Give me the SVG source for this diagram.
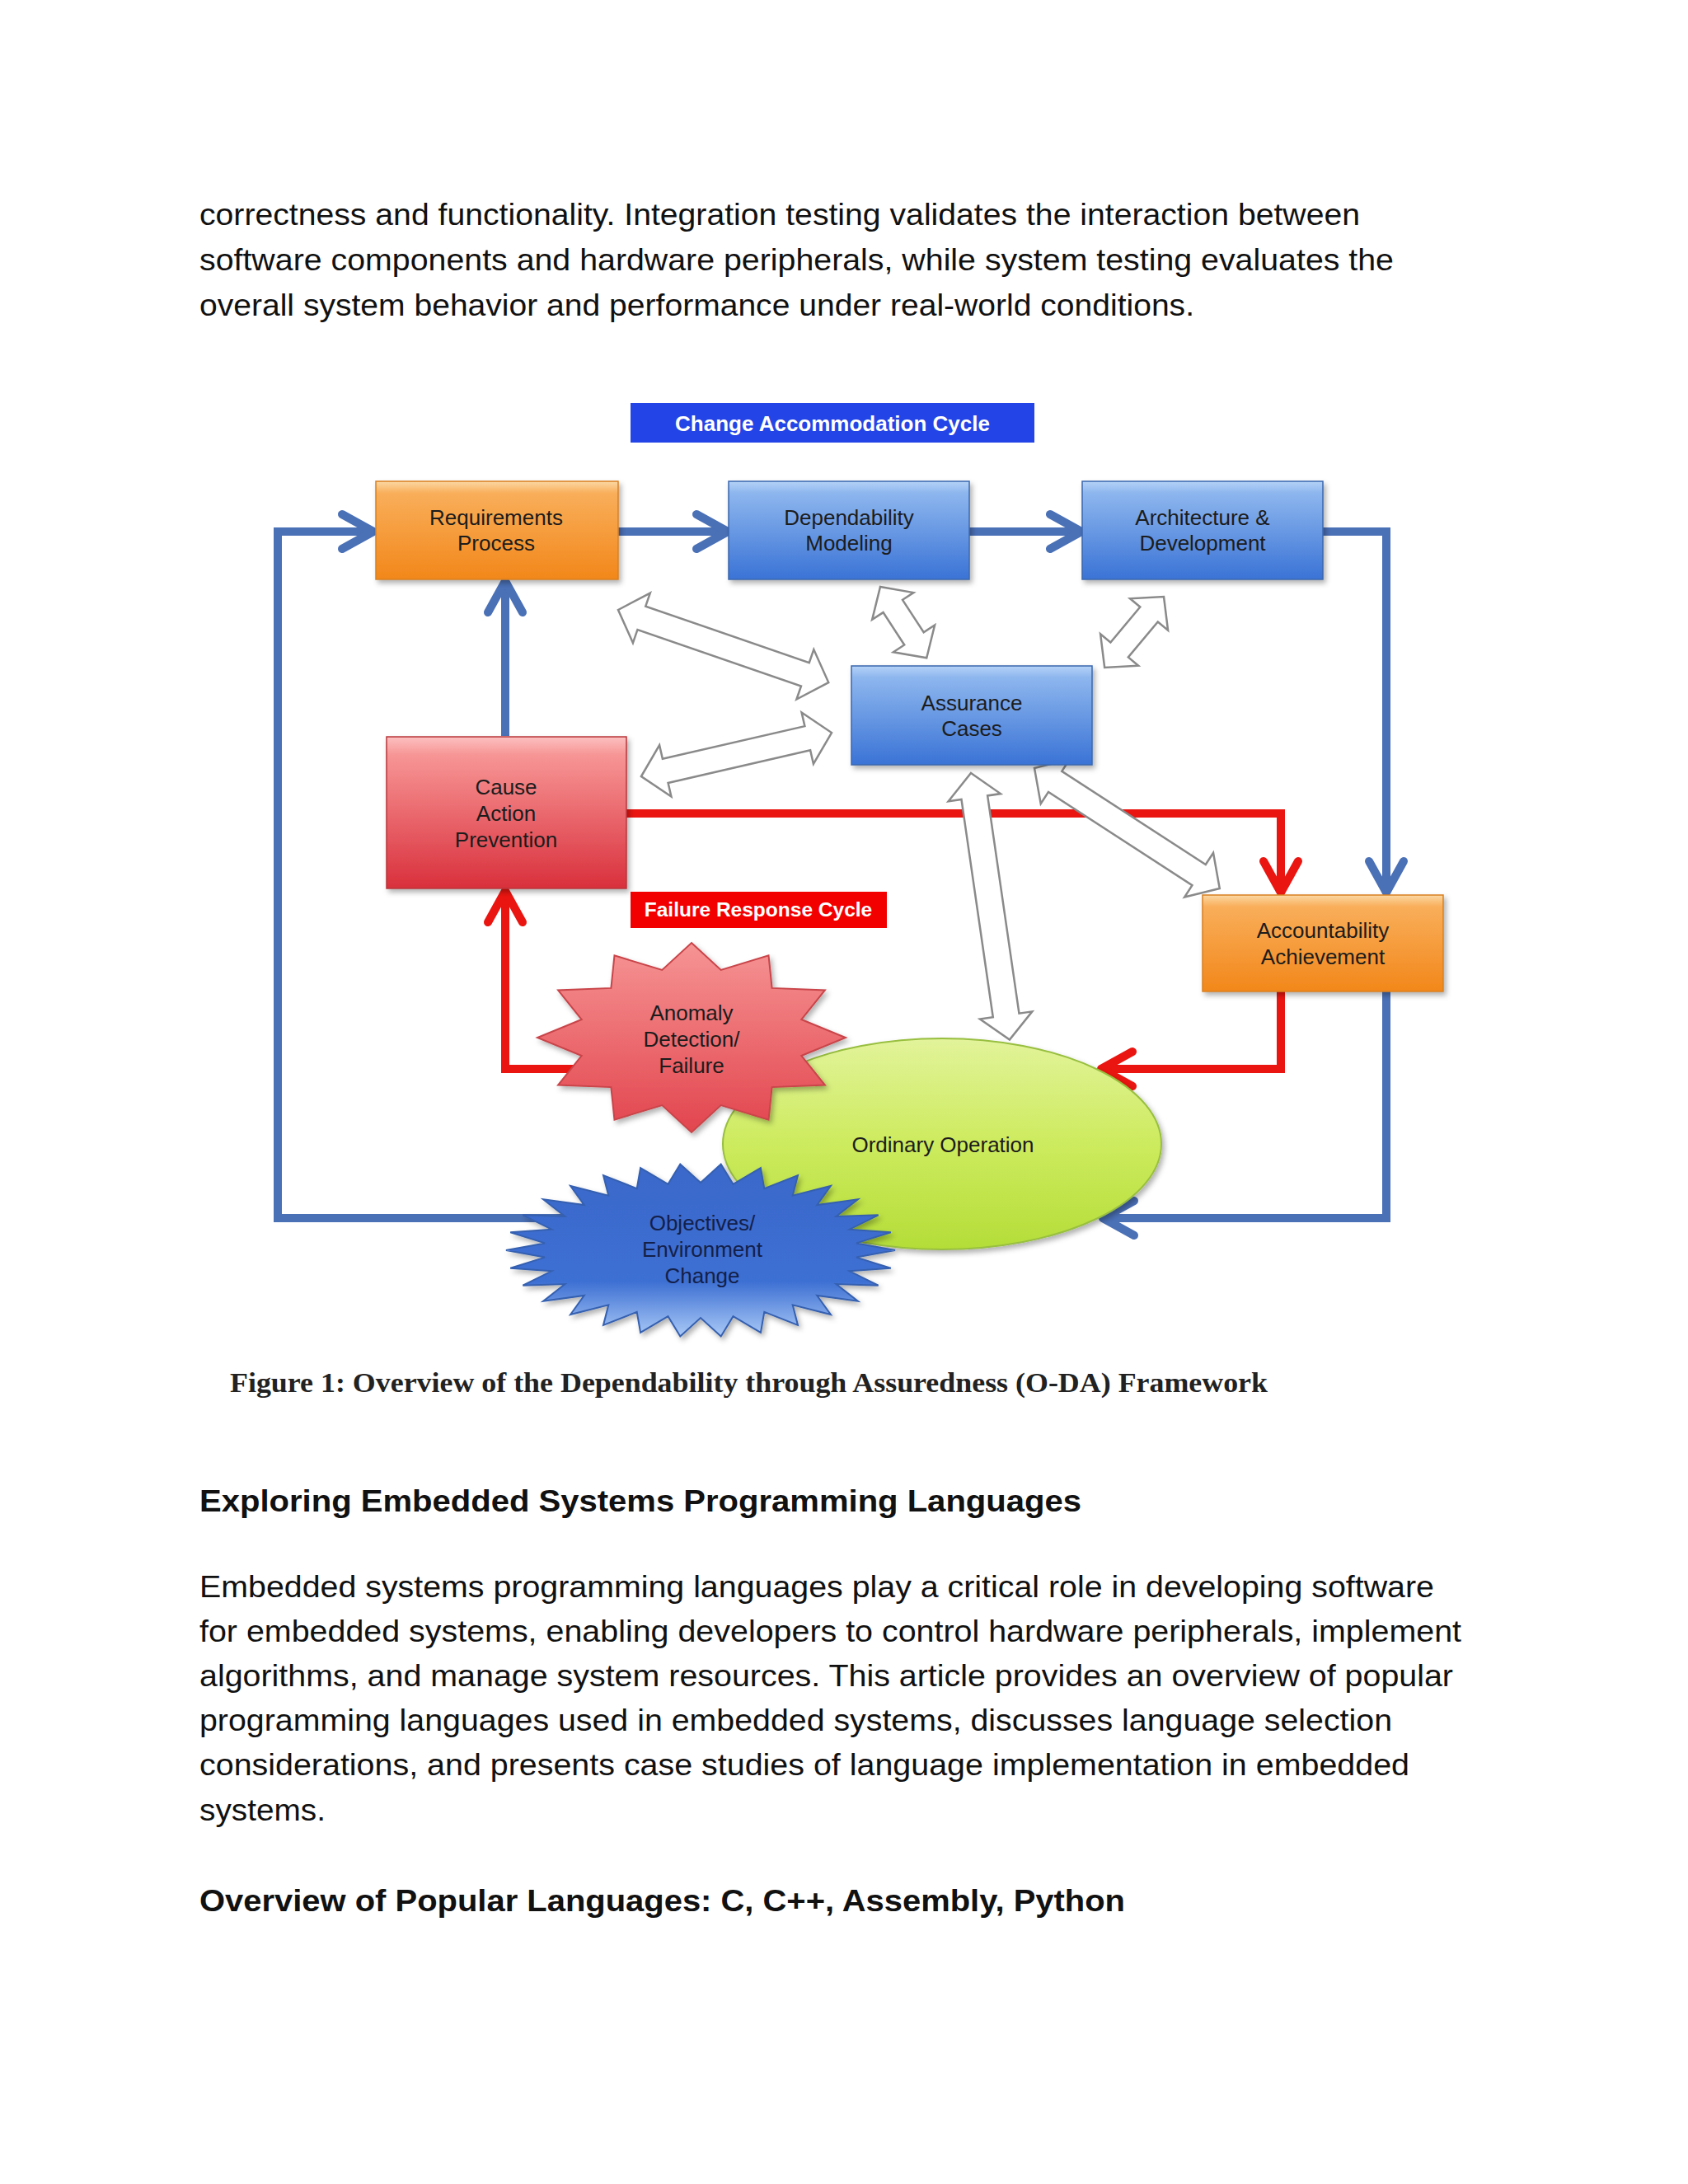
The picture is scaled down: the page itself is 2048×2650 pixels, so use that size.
<svg xmlns="http://www.w3.org/2000/svg" width="2048" height="2650" viewBox="0 0 2048 2650">
<style>
.p{font-family:"Liberation Sans",Arial,sans-serif;font-size:36px;fill:#111}
.h{font-family:"Liberation Sans",Arial,sans-serif;font-size:36px;font-weight:bold;fill:#111}
.cap{font-family:"Liberation Serif","Times New Roman",serif;font-size:34px;font-weight:bold;fill:#222}
.nt{font-family:"Liberation Sans",Arial,sans-serif;font-size:26px;fill:#1c1c1c;text-anchor:middle}
.lbl{font-family:"Liberation Sans",Arial,sans-serif;font-size:26px;font-weight:bold;fill:#fff;text-anchor:middle}
.bl{fill:none;stroke:#4A70B6;stroke-width:10;stroke-linejoin:miter}
.rd{fill:none;stroke:#EA1510;stroke-width:10;stroke-linejoin:miter}
.da{fill:#fff;stroke:#8a8a8a;stroke-width:2.5;stroke-linejoin:miter}
</style>
<defs>
<linearGradient id="gOr" x1="0" y1="0" x2="0" y2="1"><stop offset="0" stop-color="#FBD8A4"/><stop offset="0.12" stop-color="#F9AE5A"/><stop offset="1" stop-color="#F2871A"/></linearGradient>
<linearGradient id="gBl" x1="0" y1="0" x2="0" y2="1"><stop offset="0" stop-color="#B5D2F7"/><stop offset="0.12" stop-color="#8DB6EE"/><stop offset="1" stop-color="#3A73D6"/></linearGradient>
<linearGradient id="gRd" x1="0" y1="0" x2="0" y2="1"><stop offset="0" stop-color="#FCC0C0"/><stop offset="0.12" stop-color="#F79595"/><stop offset="1" stop-color="#D9303C"/></linearGradient>
<linearGradient id="gGr" x1="0" y1="0" x2="0" y2="1"><stop offset="0" stop-color="#E2F39A"/><stop offset="0.5" stop-color="#CDEB5E"/><stop offset="1" stop-color="#B4DD38"/></linearGradient>
<linearGradient id="gRs" x1="0" y1="0" x2="0" y2="1"><stop offset="0" stop-color="#F69494"/><stop offset="1" stop-color="#E2454E"/></linearGradient>
<linearGradient id="gBs" x1="0" y1="0" x2="0" y2="1"><stop offset="0" stop-color="#3A68CA"/><stop offset="0.68" stop-color="#3D6FD3"/><stop offset="1" stop-color="#A9C9F6"/></linearGradient>
<filter id="sh" x="-10%" y="-10%" width="125%" height="130%"><feDropShadow dx="3" dy="4" stdDeviation="3" flood-color="#000" flood-opacity="0.3"/></filter>
<marker id="ab" markerUnits="userSpaceOnUse" viewBox="-50 -30 60 60" markerWidth="60" markerHeight="60" refX="0" refY="0" orient="auto" overflow="visible"><path d="M-38,-21 L0,0 L-38,21" fill="none" stroke="#4A70B6" stroke-width="10" stroke-linecap="round" stroke-linejoin="round"/></marker>
<marker id="ar" markerUnits="userSpaceOnUse" viewBox="-50 -30 60 60" markerWidth="60" markerHeight="60" refX="0" refY="0" orient="auto" overflow="visible"><path d="M-38,-21 L0,0 L-38,21" fill="none" stroke="#EA1510" stroke-width="10" stroke-linecap="round" stroke-linejoin="round"/></marker>
</defs>
<rect width="2048" height="2650" fill="#fff"/>

<g id="para-top">
<text class="p" x="242" y="273" textLength="1408" lengthAdjust="spacingAndGlyphs">correctness and functionality. Integration testing validates the interaction between</text>
<text class="p" x="242" y="328" textLength="1449" lengthAdjust="spacingAndGlyphs">software components and hardware peripherals, while system testing evaluates the</text>
<text class="p" x="242" y="383" textLength="1207" lengthAdjust="spacingAndGlyphs">overall system behavior and performance under real-world conditions.</text>
</g>

<g id="connectors">
<path class="bl" d="M700,1478 H337 V645 H453" marker-end="url(#ab)"/>
<path class="bl" d="M750,645 H883" marker-end="url(#ab)"/>
<path class="bl" d="M1176,645 H1312" marker-end="url(#ab)"/>
<path class="bl" d="M1605,645 H1682 V1083" marker-end="url(#ab)"/>
<path class="bl" d="M1682,1203 V1478 H1338" marker-end="url(#ab)"/>
<path class="bl" d="M613,893 V705" marker-end="url(#ab)"/>
<path class="rd" d="M760,987 H1554 V1083" marker-end="url(#ar)"/>
<path class="rd" d="M1554,1203 V1297 H1336" marker-end="url(#ar)"/>
<path class="rd" d="M700,1297 H613 V1081" marker-end="url(#ar)"/>
<polygon class="da" transform="translate(750,740) rotate(19.04)" points="0,0 30,-32 30,-15 240,-15 240,-32 270,0 240,32 240,15 30,15 30,32"/>
<polygon class="da" transform="translate(778,942) rotate(-12.92)" points="0,0 30,-32 30,-15 207,-15 207,-32 237,0 207,32 207,15 30,15 30,32"/>
<polygon class="da" transform="translate(1068,712) rotate(56.9)" points="0,0 28,-30 28,-14 75,-14 75,-30 103,0 75,30 75,14 28,14 28,30"/>
<polygon class="da" transform="translate(1412,724) rotate(129.9)" points="0,0 28,-30 28,-14 84,-14 84,-30 112,0 84,30 84,14 28,14 28,30"/>
<polygon class="da" transform="translate(1178,938) rotate(81.75)" points="0,0 30,-32 30,-16 297,-16 297,-32 327,0 297,32 297,16 30,16 30,32"/>
<polygon class="da" transform="translate(1255,932) rotate(33.0)" points="0,0 30,-32 30,-15 238,-15 238,-32 268,0 238,32 238,15 30,15 30,32"/>
</g>

<g id="change-accommodation-cycle">
<rect x="765" y="489" width="490" height="48" fill="#2344E6"/>
<text class="lbl" x="1010" y="523">Change Accommodation Cycle</text>
</g>

<g id="requirements-process">
<rect x="456" y="584" width="294" height="119" fill="url(#gOr)" stroke="#D9801F" stroke-width="1.5" filter="url(#sh)"/>
<text class="nt" x="602" y="637">Requirements</text>
<text class="nt" x="602" y="668">Process</text>
</g>

<g id="dependability-modeling">
<rect x="884" y="584" width="292" height="119" fill="url(#gBl)" stroke="#3B67AE" stroke-width="1.5" filter="url(#sh)"/>
<text class="nt" x="1030" y="637">Dependability</text>
<text class="nt" x="1030" y="668">Modeling</text>
</g>

<g id="architecture-development">
<rect x="1313" y="584" width="292" height="119" fill="url(#gBl)" stroke="#3B67AE" stroke-width="1.5" filter="url(#sh)"/>
<text class="nt" x="1459" y="637">Architecture &amp;</text>
<text class="nt" x="1459" y="668">Development</text>
</g>

<g id="assurance-cases">
<rect x="1033" y="808" width="292" height="120" fill="url(#gBl)" stroke="#3B67AE" stroke-width="1.5" filter="url(#sh)"/>
<text class="nt" x="1179" y="862">Assurance</text>
<text class="nt" x="1179" y="893">Cases</text>
</g>

<g id="cause-action-prevention">
<rect x="469" y="894" width="291" height="184" fill="url(#gRd)" stroke="#B9343A" stroke-width="1.5" filter="url(#sh)"/>
<text class="nt" x="614" y="964">Cause</text>
<text class="nt" x="614" y="996">Action</text>
<text class="nt" x="614" y="1028">Prevention</text>
</g>

<g id="failure-response-cycle">
<rect x="765" y="1082" width="311" height="44" fill="#F20000"/>
<text class="lbl" x="920" y="1112" style="font-size:24.5px">Failure Response Cycle</text>
</g>

<g id="accountability-achievement">
<rect x="1459" y="1086" width="292" height="117" fill="url(#gOr)" stroke="#D9801F" stroke-width="1.5" filter="url(#sh)"/>
<text class="nt" x="1605" y="1138">Accountability</text>
<text class="nt" x="1605" y="1170">Achievement</text>
</g>

<g id="ordinary-operation">
<ellipse cx="1143" cy="1388" rx="266" ry="128" fill="url(#gGr)" stroke="#98BF3F" stroke-width="2" filter="url(#sh)"/>
<text class="nt" x="1144" y="1398">Ordinary Operation</text>
</g>

<g id="anomaly-detection-failure">
<polygon points="839,1144 874.7,1176.9 932.5,1159.4 936.6,1198.9 1000.9,1201.5 972.3,1237 1026,1259 972.3,1281 1000.9,1316.5 936.6,1319.1 932.5,1358.6 874.7,1341.1 839,1374 803.3,1341.1 745.5,1358.6 741.4,1319.1 677.1,1316.5 705.7,1281 652,1259 705.7,1237 677.1,1201.5 741.4,1198.9 745.5,1159.4 803.3,1176.9" fill="url(#gRs)" stroke="#C9444A" stroke-width="2" filter="url(#sh)"/>
<text class="nt" x="839" y="1238">Anomaly</text>
<text class="nt" x="839" y="1270">Detection/</text>
<text class="nt" x="839" y="1302">Failure</text>
</g>

<g id="objectives-environment-change">
<polygon points="850,1435 874.7,1412.6 889.5,1436.8 922.9,1417.1 927.3,1442.1 968,1426.1 961.7,1450.7 1007.9,1439 991.2,1462.1 1040.9,1455.3 1014.5,1476 1065.6,1474.3 1030.7,1491.7 1080.8,1495.2 1039,1508.4 1086,1517 1039,1525.6 1080.8,1538.8 1030.7,1542.3 1065.6,1559.7 1014.5,1558 1040.9,1578.7 991.2,1571.9 1007.9,1595 961.7,1583.3 968,1607.9 927.3,1591.9 922.9,1616.9 889.5,1597.2 874.7,1621.4 850,1599 825.3,1621.4 810.5,1597.2 777.1,1616.9 772.7,1591.9 732,1607.9 738.3,1583.3 692.1,1595 708.8,1571.9 659.1,1578.7 685.5,1558 634.4,1559.7 669.3,1542.3 619.2,1538.8 661,1525.6 614,1517 661,1508.4 619.2,1495.2 669.3,1491.7 634.4,1474.3 685.5,1476 659.1,1455.3 708.8,1462.1 692.1,1439 738.3,1450.7 732,1426.1 772.7,1442.1 777.1,1417.1 810.5,1436.8 825.3,1412.6" fill="url(#gBs)" stroke="#3560B0" stroke-width="2" filter="url(#sh)"/>
<text class="nt" x="852" y="1493" style="fill:#13204a">Objectives/</text>
<text class="nt" x="852" y="1525" style="fill:#13204a">Environment</text>
<text class="nt" x="852" y="1557" style="fill:#13204a">Change</text>
</g>

<g id="caption">
<text class="cap" x="279" y="1689" textLength="1259" lengthAdjust="spacingAndGlyphs">Figure 1: Overview of the Dependability through Assuredness (O-DA) Framework</text>
</g>

<g id="body">
<text class="h" x="242" y="1834" textLength="1070" lengthAdjust="spacingAndGlyphs">Exploring Embedded Systems Programming Languages</text>
<text class="p" x="242" y="1938" textLength="1498" lengthAdjust="spacingAndGlyphs">Embedded systems programming languages play a critical role in developing software</text>
<text class="p" x="242" y="1992" textLength="1531" lengthAdjust="spacingAndGlyphs">for embedded systems, enabling developers to control hardware peripherals, implement</text>
<text class="p" x="242" y="2046" textLength="1521" lengthAdjust="spacingAndGlyphs">algorithms, and manage system resources. This article provides an overview of popular</text>
<text class="p" x="242" y="2100" textLength="1447" lengthAdjust="spacingAndGlyphs">programming languages used in embedded systems, discusses language selection</text>
<text class="p" x="242" y="2154" textLength="1468" lengthAdjust="spacingAndGlyphs">considerations, and presents case studies of language implementation in embedded</text>
<text class="p" x="242" y="2209" textLength="153" lengthAdjust="spacingAndGlyphs">systems.</text>
<text class="h" x="242" y="2319" textLength="1123" lengthAdjust="spacingAndGlyphs">Overview of Popular Languages: C, C++, Assembly, Python</text>
</g>
</svg>
